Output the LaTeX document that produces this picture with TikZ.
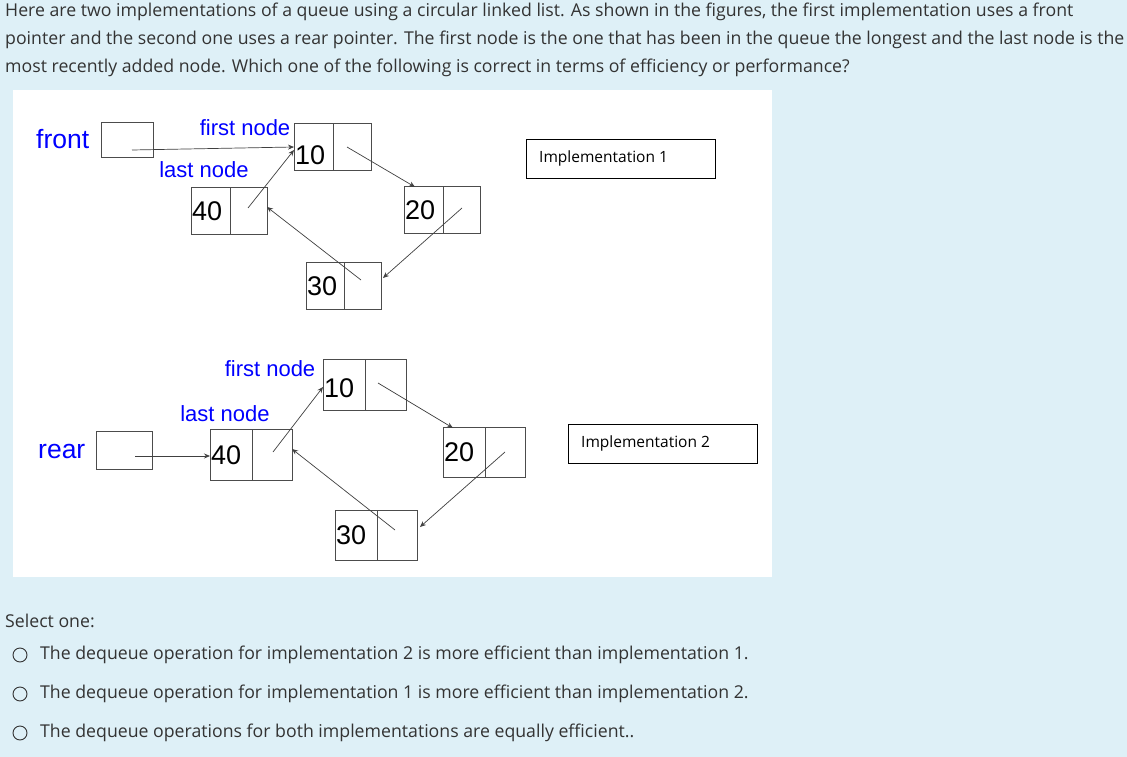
\documentclass[tikz,border=0pt]{standalone}
\usepackage{fontspec}
\setmainfont{Open Sans}
\newfontfamily\arialf{Liberation Sans}
\usetikzlibrary{arrows.meta}
\definecolor{bgblue}{HTML}{DEF0F7}
\definecolor{qtext}{HTML}{333333}
\tikzset{
  qline/.style={anchor=west,inner sep=0pt,text=qtext,font=\fontsize{17.7}{21}\selectfont},
  cell/.style={draw=black!70,line width=0.8pt,minimum width=#1,minimum height=47pt,inner sep=0pt,anchor=north west},
  num/.style={font=\arialf\fontsize{27}{30}\selectfont,anchor=west,inner sep=1pt},
  lab/.style={text=blue,font=\arialf\fontsize{22}{25}\selectfont,inner sep=0pt},
  biglab/.style={text=blue,font=\arialf\fontsize{26.5}{30}\selectfont,inner sep=0pt},
  ptr/.style={-{Stealth[length=6pt,width=5pt]},line width=0.7pt,black!75},
  impl/.style={draw,line width=0.8pt,minimum width=189pt,minimum height=39pt,anchor=north west},
  impltext/.style={anchor=west,inner sep=0pt,font=\fontsize{15.5}{18}\selectfont},
  radio/.style={circle,draw=qtext,line width=0.9pt,minimum size=14pt,inner sep=0pt},
}
\begin{document}
\begin{tikzpicture}[x=1pt,y=-1pt]
\fill[bgblue] (0,0) rectangle (1127,757);
\useasboundingbox (0,0) rectangle (1127,757);
\fill[white] (13,90) rectangle (772,577);
\node[qline] (q1) at (5,12) {Here are two implementations of a queue using a circular linked list. As shown in the figures, the first implementation uses a front};
\node[qline] (q2) at (5,40) {pointer and the second one uses a rear pointer. The first node is the one that has been in the queue the longest and the last node is the};
\node[qline] (q3) at (5,68) {most recently added node. Which one of the following is correct in terms of efficiency or performance?};
% Figure 1
\node[biglab,anchor=west] (front) at (36,139) {front};
\node[cell=52pt,minimum height=35pt] (fb) at (101,122) {};
\node[cell=39pt] (a10) at (294,123) {}; \node[cell=38pt] (a10p) at (333,123) {};
\node[num] at ([yshift=-8pt]a10.west) {10};
\node[cell=39pt] (a40) at (191,187) {}; \node[cell=37pt] (a40p) at (230,187) {};
\node[num] at (a40.west) {40};
\node[cell=39pt] (a20) at (404,186) {}; \node[cell=37pt] (a20p) at (443,186) {};
\node[num] at (a20.west) {20};
\node[cell=38pt] (a30) at (306,262) {}; \node[cell=37pt] (a30p) at (344,262) {};
\node[num] at (a30.west) {30};
\node[lab] (fn1) at (245,128) {first node};
\node[lab] (ln1) at (204,170) {last node};
\coordinate (fs) at (132,150); \coordinate (fe) at (294,147);
\coordinate (s10) at (347,147); \coordinate (e20) at (415,187);
\coordinate (s20) at (462,208); \coordinate (e30) at (383,278);
\coordinate (s30) at (361,280); \coordinate (e40) at (267,207);
\coordinate (s40) at (248,208); \coordinate (e10) at (294,150);
\draw[ptr] (fs) -- (fe);
\draw[ptr] (s10) -- (e20);
\draw[ptr] (s20) -- (e30);
\draw[ptr] (s30) -- (e40);
\draw[ptr] (s40) -- (e10);
\node[impl] (i1) at (526,139) {};
\node[impltext] (i1t) at (539,158) {Implementation 1};
% Figure 2
\node[biglab,anchor=west] (rear) at (38,451) {rear};
\node[cell=56pt,minimum height=38pt] (rb) at (96,431) {};
\node[cell=42pt,minimum height=51pt] (b10) at (323,359) {}; \node[cell=41pt,minimum height=51pt] (b10p) at (365,359) {};
\node[num] at ([yshift=-3pt]b10.west) {10};
\node[cell=42pt,minimum height=51pt] (b40) at (210,429) {}; \node[cell=40pt,minimum height=51pt] (b40p) at (252,429) {};
\node[num] at (b40.west) {40};
\node[cell=42pt,minimum height=50pt] (b20) at (443,427) {}; \node[cell=40pt,minimum height=50pt] (b20p) at (485,427) {};
\node[num] at (b20.west) {20};
\node[cell=42pt,minimum height=50pt] (b30) at (335,510) {}; \node[cell=40pt,minimum height=50pt] (b30p) at (377,510) {};
\node[num] at (b30.west) {30};
\node[lab] (fn2) at (270,369) {first node};
\node[lab] (ln2) at (225,414) {last node};
\coordinate (rs) at (135,456); \coordinate (re) at (210,456);
\coordinate (t10) at (378,383); \coordinate (f20) at (453,428);
\coordinate (t20) at (505,452); \coordinate (f30) at (420,527);
\coordinate (t30) at (395,530); \coordinate (f40) at (292,449);
\coordinate (t40) at (273,452); \coordinate (f10) at (323,387);
\draw[ptr] (rs) -- (re);
\draw[ptr] (t10) -- (f20);
\draw[ptr] (t20) -- (f30);
\draw[ptr] (t30) -- (f40);
\draw[ptr] (t40) -- (f10);
\node[impl] (i2) at (568,424) {};
\node[impltext] (i2t) at (581,443) {Implementation 2};
% Options
\node[qline] (sel) at (5,621) {Select one:};
\node[radio] (r1) at (20,655) {}; \node[qline] (o1) at (40,655) {The dequeue operation for implementation 2 is more efficient than implementation 1.};
\node[radio] (r2) at (20,694) {}; \node[qline] (o2) at (40,694) {The dequeue operation for implementation 1 is more efficient than implementation 2.};
\node[radio] (r3) at (20,733) {}; \node[qline] (o3) at (40,733) {The dequeue operations for both implementations are equally efficient..};
\end{tikzpicture}
\end{document}
